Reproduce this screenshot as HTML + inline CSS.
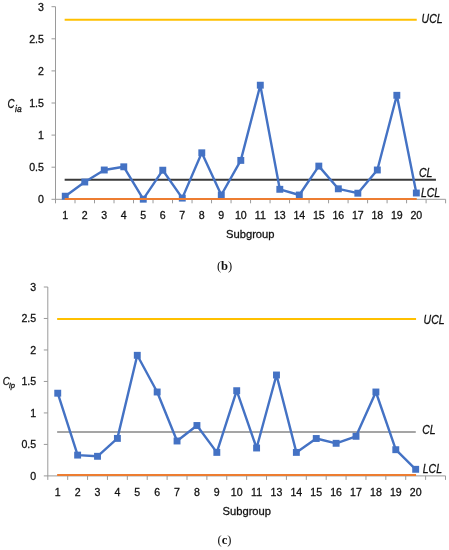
<!DOCTYPE html><html><head><meta charset="utf-8"><title>Control charts</title>
<style>html,body{margin:0;padding:0;background:#fff}svg{display:block}text{font-family:"Liberation Sans",sans-serif;fill:#111;stroke:#111;stroke-width:0.28px}.s{font-family:"Liberation Serif",serif;stroke:none}</style></head><body>
<svg width="449" height="550" viewBox="0 0 449 550">
<rect width="449" height="550" fill="#fff"/>
<g stroke="#9a9a9a" stroke-width="1" fill="none" shape-rendering="auto">
<path d="M55.50 6.70V203.30"/>
<path d="M51.50 199.30H445.60"/>
<path d="M51.50 6.70h4M51.50 38.80h4M51.50 70.90h4M51.50 103.00h4M51.50 135.10h4M51.50 167.20h4M75.00 199.30v4M94.51 199.30v4M114.02 199.30v4M133.52 199.30v4M153.03 199.30v4M172.53 199.30v4M192.04 199.30v4M211.54 199.30v4M231.05 199.30v4M250.55 199.30v4M270.06 199.30v4M289.56 199.30v4M309.07 199.30v4M328.57 199.30v4M348.08 199.30v4M367.58 199.30v4M387.09 199.30v4M406.59 199.30v4M426.10 199.30v4M445.60 199.30v4"/>
</g>
<text x="43.90" y="10.55" font-size="10.6" text-anchor="end">3</text>
<text x="43.90" y="42.65" font-size="10.6" text-anchor="end">2.5</text>
<text x="43.90" y="74.75" font-size="10.6" text-anchor="end">2</text>
<text x="43.90" y="106.85" font-size="10.6" text-anchor="end">1.5</text>
<text x="43.90" y="138.95" font-size="10.6" text-anchor="end">1</text>
<text x="43.90" y="171.05" font-size="10.6" text-anchor="end">0.5</text>
<text x="43.90" y="203.15" font-size="10.6" text-anchor="end">0</text>
<text x="65.25" y="218.90" font-size="10.6" text-anchor="middle">1</text>
<text x="84.76" y="218.90" font-size="10.6" text-anchor="middle">2</text>
<text x="104.26" y="218.90" font-size="10.6" text-anchor="middle">3</text>
<text x="123.77" y="218.90" font-size="10.6" text-anchor="middle">4</text>
<text x="143.27" y="218.90" font-size="10.6" text-anchor="middle">5</text>
<text x="162.78" y="218.90" font-size="10.6" text-anchor="middle">6</text>
<text x="182.28" y="218.90" font-size="10.6" text-anchor="middle">7</text>
<text x="201.79" y="218.90" font-size="10.6" text-anchor="middle">8</text>
<text x="221.29" y="218.90" font-size="10.6" text-anchor="middle">9</text>
<text x="240.80" y="218.90" font-size="10.6" text-anchor="middle">10</text>
<text x="260.30" y="218.90" font-size="10.6" text-anchor="middle">11</text>
<text x="279.81" y="218.90" font-size="10.6" text-anchor="middle">13</text>
<text x="299.31" y="218.90" font-size="10.6" text-anchor="middle">14</text>
<text x="318.82" y="218.90" font-size="10.6" text-anchor="middle">15</text>
<text x="338.32" y="218.90" font-size="10.6" text-anchor="middle">16</text>
<text x="357.83" y="218.90" font-size="10.6" text-anchor="middle">17</text>
<text x="377.33" y="218.90" font-size="10.6" text-anchor="middle">18</text>
<text x="396.84" y="218.90" font-size="10.6" text-anchor="middle">19</text>
<text x="416.34" y="218.90" font-size="10.6" text-anchor="middle">20</text>
<path d="M64.65 19.70H416.74" stroke="#FFC000" stroke-width="2" fill="none"/>
<path d="M64.65 179.75H435.95" stroke="#3a3a3a" stroke-width="1.8" fill="none"/>
<path d="M65.25 196.20 L84.76 182.00 L104.26 170.00 L123.77 166.80 L143.27 199.20 L162.78 170.20 L182.28 198.10 L201.79 152.80 L221.29 195.00 L240.80 160.40 L260.30 85.20 L279.81 189.30 L299.31 195.00 L318.82 166.10 L338.32 188.80 L357.83 193.20 L377.33 170.00 L396.84 95.30 L416.34 193.00" stroke="#4472C4" stroke-width="2.4" fill="none" stroke-linejoin="round" stroke-linecap="round"/>
<rect x="61.80" y="192.75" width="6.9" height="6.9" fill="#4472C4"/>
<rect x="81.31" y="178.55" width="6.9" height="6.9" fill="#4472C4"/>
<rect x="100.81" y="166.55" width="6.9" height="6.9" fill="#4472C4"/>
<rect x="120.32" y="163.35" width="6.9" height="6.9" fill="#4472C4"/>
<rect x="139.82" y="195.75" width="6.9" height="6.9" fill="#4472C4"/>
<rect x="159.33" y="166.75" width="6.9" height="6.9" fill="#4472C4"/>
<rect x="178.83" y="194.65" width="6.9" height="6.9" fill="#4472C4"/>
<rect x="198.34" y="149.35" width="6.9" height="6.9" fill="#4472C4"/>
<rect x="217.84" y="191.55" width="6.9" height="6.9" fill="#4472C4"/>
<rect x="237.35" y="156.95" width="6.9" height="6.9" fill="#4472C4"/>
<rect x="256.85" y="81.75" width="6.9" height="6.9" fill="#4472C4"/>
<rect x="276.36" y="185.85" width="6.9" height="6.9" fill="#4472C4"/>
<rect x="295.86" y="191.55" width="6.9" height="6.9" fill="#4472C4"/>
<rect x="315.37" y="162.65" width="6.9" height="6.9" fill="#4472C4"/>
<rect x="334.87" y="185.35" width="6.9" height="6.9" fill="#4472C4"/>
<rect x="354.38" y="189.75" width="6.9" height="6.9" fill="#4472C4"/>
<rect x="373.88" y="166.55" width="6.9" height="6.9" fill="#4472C4"/>
<rect x="393.39" y="91.85" width="6.9" height="6.9" fill="#4472C4"/>
<rect x="412.89" y="189.55" width="6.9" height="6.9" fill="#4472C4"/>
<path d="M64.65 199.00H416.74" stroke="#ED7D31" stroke-width="2" fill="none"/>
<text x="421.60" y="23.00" font-size="12.2" font-style="italic" transform="translate(421.60 0) scale(0.86 1) translate(-421.60 0)">UCL</text>
<text x="418.90" y="177.50" font-size="12.2" font-style="italic" transform="translate(418.90 0) scale(0.86 1) translate(-418.90 0)">CL</text>
<text x="420.90" y="197.50" font-size="12.2" font-style="italic" transform="translate(420.90 0) scale(0.86 1) translate(-420.90 0)">LCL</text>
<text x="226.00" y="237.60" font-size="11.2">Subgroup</text>
<text x="7.40" y="107.80" font-size="12.2" font-style="italic" transform="translate(7.40 0) scale(0.80 1) translate(-7.40 0)">C</text>
<text x="15.05" y="111.70" font-size="8.5" font-style="italic">ia</text>
<g stroke="#9a9a9a" stroke-width="1" fill="none" shape-rendering="auto">
<path d="M47.80 287.00V479.90"/>
<path d="M43.80 475.90H445.50"/>
<path d="M43.80 287.00h4M43.80 318.48h4M43.80 349.97h4M43.80 381.45h4M43.80 412.93h4M43.80 444.42h4M67.69 475.90v4M87.57 475.90v4M107.45 475.90v4M127.34 475.90v4M147.22 475.90v4M167.11 475.90v4M187.00 475.90v4M206.88 475.90v4M226.76 475.90v4M246.65 475.90v4M266.53 475.90v4M286.42 475.90v4M306.31 475.90v4M326.19 475.90v4M346.07 475.90v4M365.96 475.90v4M385.84 475.90v4M405.73 475.90v4M425.61 475.90v4M445.50 475.90v4"/>
</g>
<text x="36.20" y="290.85" font-size="10.6" text-anchor="end">3</text>
<text x="36.20" y="322.33" font-size="10.6" text-anchor="end">2.5</text>
<text x="36.20" y="353.82" font-size="10.6" text-anchor="end">2</text>
<text x="36.20" y="385.30" font-size="10.6" text-anchor="end">1.5</text>
<text x="36.20" y="416.78" font-size="10.6" text-anchor="end">1</text>
<text x="36.20" y="448.27" font-size="10.6" text-anchor="end">0.5</text>
<text x="36.20" y="479.75" font-size="10.6" text-anchor="end">0</text>
<text x="57.74" y="496.20" font-size="10.6" text-anchor="middle">1</text>
<text x="77.63" y="496.20" font-size="10.6" text-anchor="middle">2</text>
<text x="97.51" y="496.20" font-size="10.6" text-anchor="middle">3</text>
<text x="117.40" y="496.20" font-size="10.6" text-anchor="middle">4</text>
<text x="137.28" y="496.20" font-size="10.6" text-anchor="middle">5</text>
<text x="157.17" y="496.20" font-size="10.6" text-anchor="middle">6</text>
<text x="177.05" y="496.20" font-size="10.6" text-anchor="middle">7</text>
<text x="196.94" y="496.20" font-size="10.6" text-anchor="middle">8</text>
<text x="216.82" y="496.20" font-size="10.6" text-anchor="middle">9</text>
<text x="236.71" y="496.20" font-size="10.6" text-anchor="middle">10</text>
<text x="256.59" y="496.20" font-size="10.6" text-anchor="middle">11</text>
<text x="276.48" y="496.20" font-size="10.6" text-anchor="middle">13</text>
<text x="296.36" y="496.20" font-size="10.6" text-anchor="middle">14</text>
<text x="316.25" y="496.20" font-size="10.6" text-anchor="middle">15</text>
<text x="336.13" y="496.20" font-size="10.6" text-anchor="middle">16</text>
<text x="356.02" y="496.20" font-size="10.6" text-anchor="middle">17</text>
<text x="375.90" y="496.20" font-size="10.6" text-anchor="middle">18</text>
<text x="395.79" y="496.20" font-size="10.6" text-anchor="middle">19</text>
<text x="415.67" y="496.20" font-size="10.6" text-anchor="middle">20</text>
<path d="M57.14 318.90H416.07" stroke="#FFC000" stroke-width="2" fill="none"/>
<path d="M57.14 432.00H415.77" stroke="#A5A5A5" stroke-width="1.8" fill="none"/>
<path d="M57.74 393.20 L77.63 455.10 L97.51 456.30 L117.40 438.40 L137.28 355.30 L157.17 392.00 L177.05 441.00 L196.94 425.50 L216.82 452.40 L236.71 390.70 L256.59 448.00 L276.48 375.00 L296.36 452.40 L316.25 438.50 L336.13 443.30 L356.02 436.30 L375.90 392.00 L395.79 449.70 L415.67 469.30" stroke="#4472C4" stroke-width="2.4" fill="none" stroke-linejoin="round" stroke-linecap="round"/>
<rect x="54.29" y="389.75" width="6.9" height="6.9" fill="#4472C4"/>
<rect x="74.18" y="451.65" width="6.9" height="6.9" fill="#4472C4"/>
<rect x="94.06" y="452.85" width="6.9" height="6.9" fill="#4472C4"/>
<rect x="113.95" y="434.95" width="6.9" height="6.9" fill="#4472C4"/>
<rect x="133.83" y="351.85" width="6.9" height="6.9" fill="#4472C4"/>
<rect x="153.72" y="388.55" width="6.9" height="6.9" fill="#4472C4"/>
<rect x="173.60" y="437.55" width="6.9" height="6.9" fill="#4472C4"/>
<rect x="193.49" y="422.05" width="6.9" height="6.9" fill="#4472C4"/>
<rect x="213.37" y="448.95" width="6.9" height="6.9" fill="#4472C4"/>
<rect x="233.26" y="387.25" width="6.9" height="6.9" fill="#4472C4"/>
<rect x="253.14" y="444.55" width="6.9" height="6.9" fill="#4472C4"/>
<rect x="273.03" y="371.55" width="6.9" height="6.9" fill="#4472C4"/>
<rect x="292.91" y="448.95" width="6.9" height="6.9" fill="#4472C4"/>
<rect x="312.80" y="435.05" width="6.9" height="6.9" fill="#4472C4"/>
<rect x="332.68" y="439.85" width="6.9" height="6.9" fill="#4472C4"/>
<rect x="352.57" y="432.85" width="6.9" height="6.9" fill="#4472C4"/>
<rect x="372.45" y="388.55" width="6.9" height="6.9" fill="#4472C4"/>
<rect x="392.34" y="446.25" width="6.9" height="6.9" fill="#4472C4"/>
<rect x="412.22" y="465.85" width="6.9" height="6.9" fill="#4472C4"/>
<path d="M57.14 475.00H416.07" stroke="#ED7D31" stroke-width="2" fill="none"/>
<text x="423.60" y="323.60" font-size="12.2" font-style="italic" transform="translate(423.60 0) scale(0.86 1) translate(-423.60 0)">UCL</text>
<text x="422.30" y="433.70" font-size="12.2" font-style="italic" transform="translate(422.30 0) scale(0.86 1) translate(-422.30 0)">CL</text>
<text x="422.80" y="473.40" font-size="12.2" font-style="italic" transform="translate(422.80 0) scale(0.86 1) translate(-422.80 0)">LCL</text>
<text x="222.50" y="514.60" font-size="11.2">Subgroup</text>
<text x="2.70" y="385.10" font-size="10.8" font-style="italic" transform="translate(2.70 0) scale(0.90 1) translate(-2.70 0)">C</text>
<text x="9.12" y="387.70" font-size="7.6" font-style="italic">ip</text>
<text class="s" x="224.6" y="269.8" font-size="12.6" text-anchor="middle">(<tspan font-weight="bold">b</tspan>)</text>
<text class="s" x="224.5" y="544.3" font-size="12.6" text-anchor="middle">(<tspan font-weight="bold">c</tspan>)</text>
</svg></body></html>
